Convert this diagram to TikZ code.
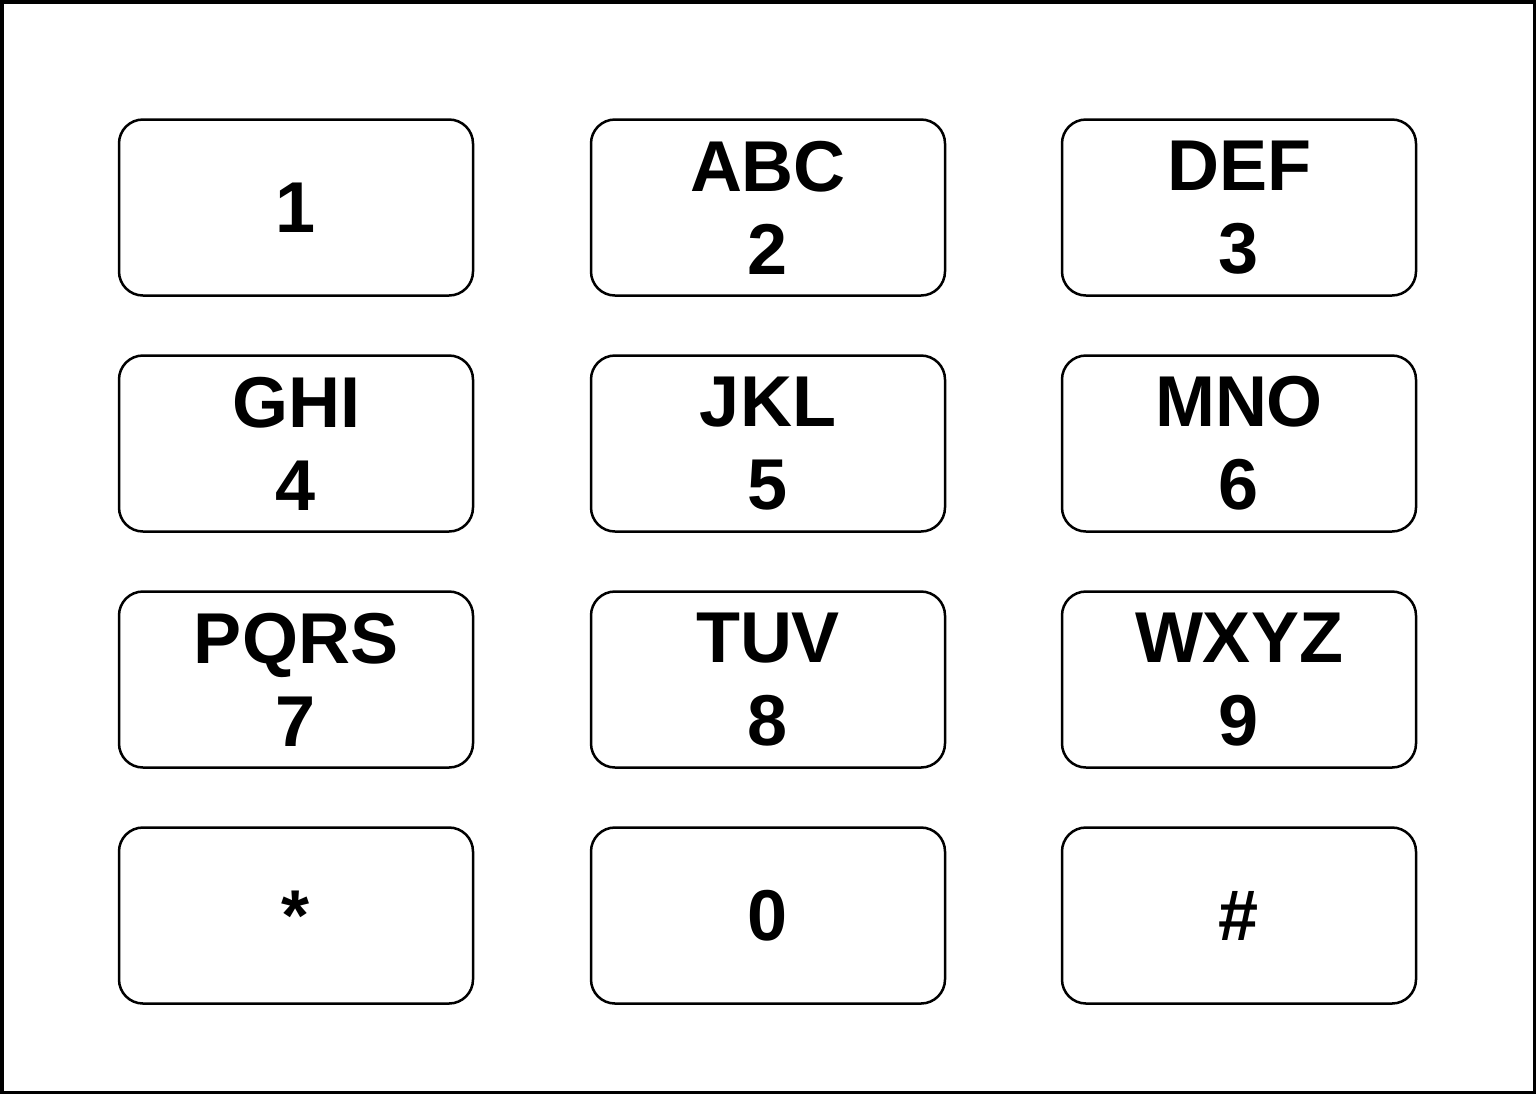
\documentclass[tikz,border=0pt]{standalone}
\usepackage{fontspec}
\setmainfont{Liberation Sans}
\usepackage{tikz}

\begin{document}
\begin{tikzpicture}[x=0.5pt,y=-0.5pt,
    key/.style={draw,line width=1.25pt,rounded corners=12pt,minimum width=177pt,minimum height=88pt,inner sep=0pt,align=center,font=\fontsize{36}{41.5}\selectfont\bfseries}]

    \useasboundingbox (0,0) rectangle (1536,1094);
    \draw[line width=1.75pt] (1.75,1.75) rectangle (1534.25,1092.25);

    \node[key] (k1) at (296,207.5) {1};
    \node[key] (k2) at (768,207.5) {ABC\\2};
    \node[key] (k3) at (1239,207.5) {DEF\\3};

    \node[key] (k4) at (296,443.5) {GHI\\4};
    \node[key] (k5) at (768,443.5) {JKL\\5};
    \node[key] (k6) at (1239,443.5) {MNO\\6};

    \node[key] (k7) at (296,679.5) {PQRS\\7};
    \node[key] (k8) at (768,679.5) {TUV\\8};
    \node[key] (k9) at (1239,679.5) {WXYZ\\9};

    \node[key] (kstar) at (296,915.5) {\vphantom{0}*};
    \node[key] (k0) at (768,915.5) {0};
    \node[key] (khash) at (1239,915.5) {\vphantom{0}\#};

\end{tikzpicture}
\end{document}
